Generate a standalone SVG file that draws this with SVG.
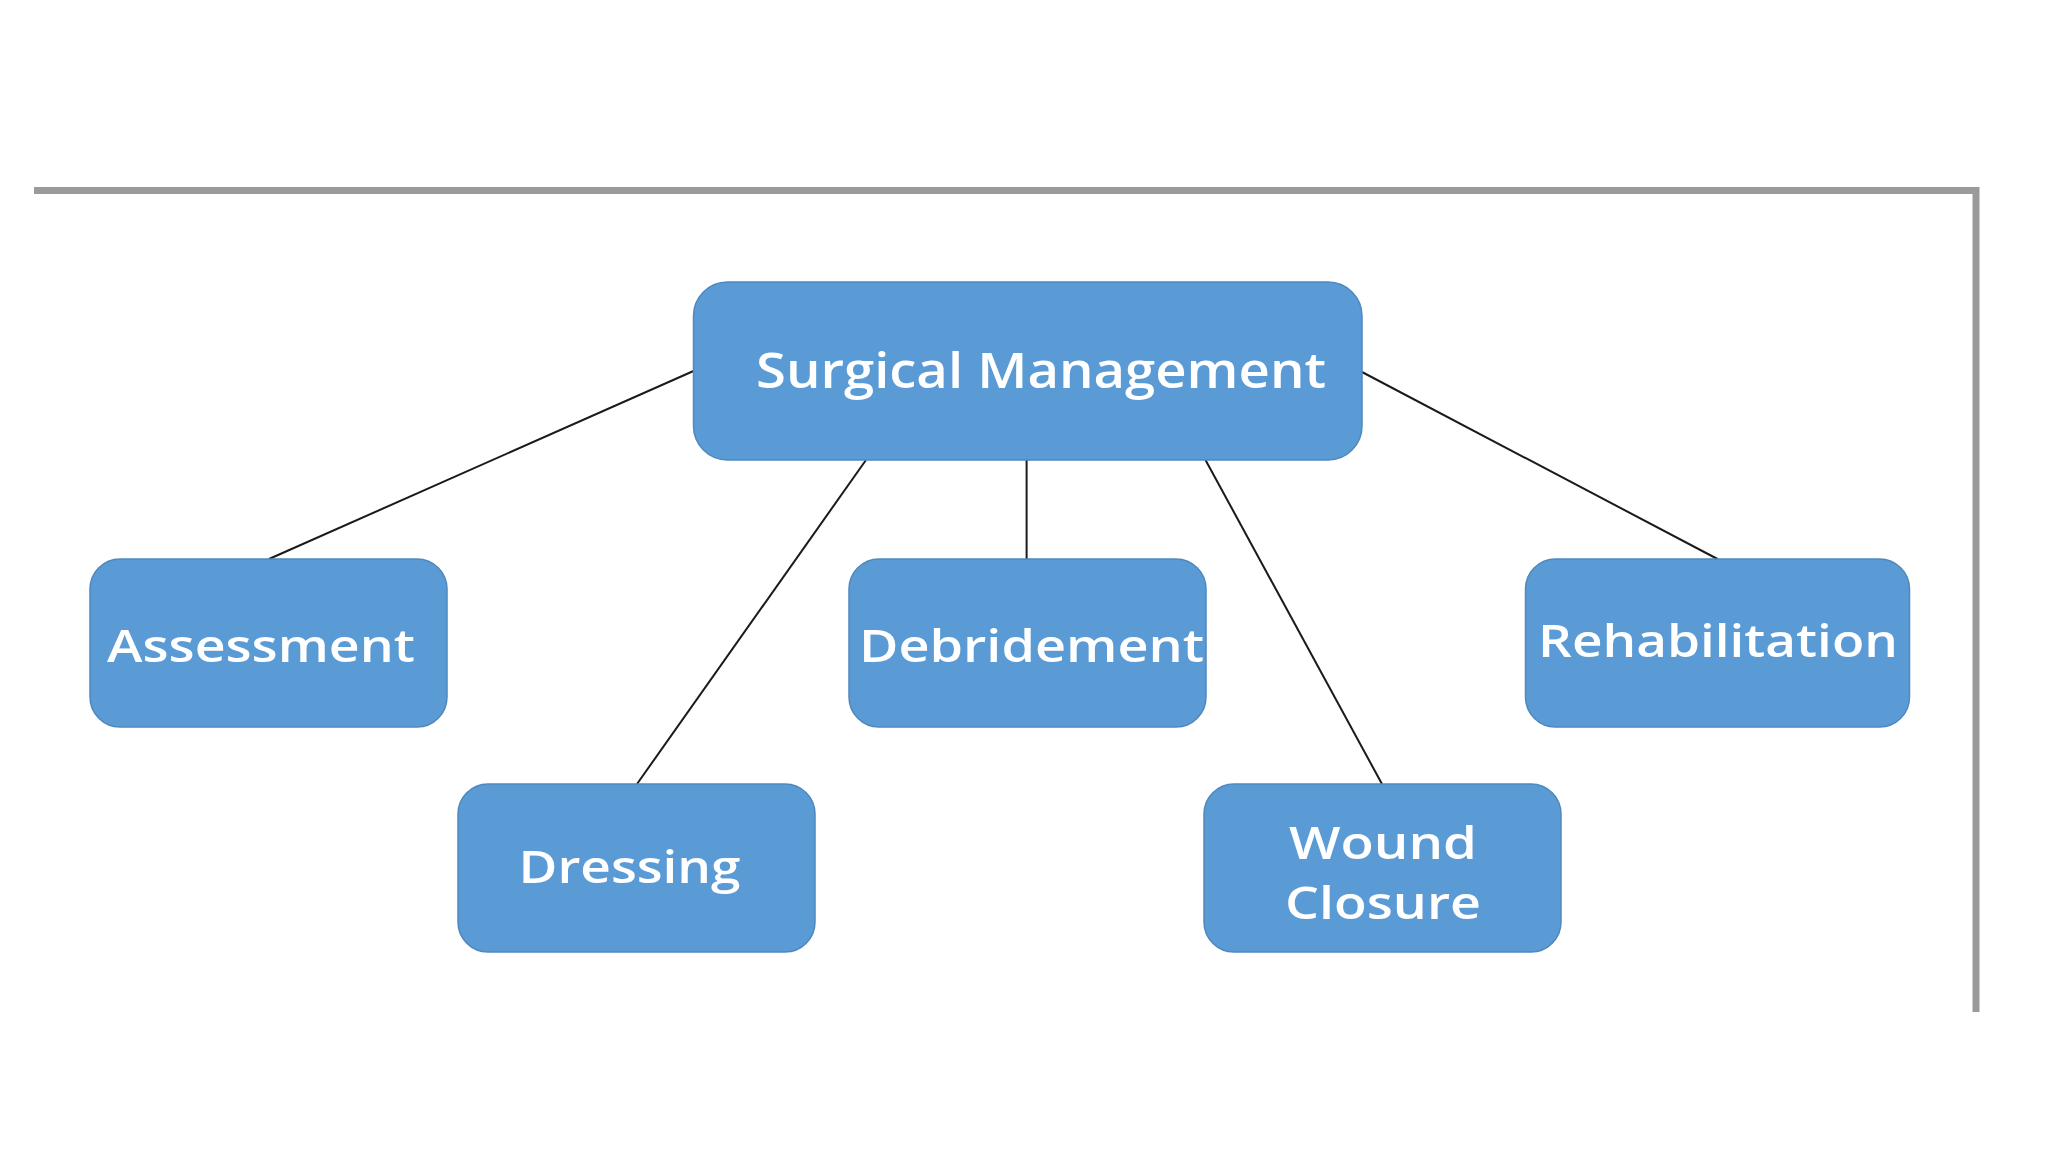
<svg xmlns="http://www.w3.org/2000/svg" width="2048" height="1154" viewBox="0 0 2048 1154">
  <style>
    .box { fill: #5B9BD5; stroke: #4F88BE; stroke-width: 1.5; }
    .lbl { fill: #FFFFFF; font-family: "Open Sans", "Liberation Sans", sans-serif; font-weight: 600; text-anchor: middle; }
    .conn line { stroke: #1a1a1a; stroke-width: 2; }
    .frame { stroke: #9A9A9A; stroke-width: 7; fill: none; }
  </style>
  <rect x="0" y="0" width="2048" height="1154" fill="#FFFFFF"/>
  <polyline class="frame" points="34,190.5 1976,190.5 1976,1012"/>

  <g id="connectors" class="conn">
    <line x1="693.5" y1="371" x2="269" y2="559"/>
    <line x1="866" y1="460" x2="637" y2="784"/>
    <line x1="1026.6" y1="460" x2="1026.6" y2="559"/>
    <line x1="1205.5" y1="460" x2="1382" y2="784"/>
    <line x1="1362" y1="372" x2="1717.5" y2="559"/>
  </g>

  <g id="surgical-management">
    <rect class="box" x="693.5" y="282" width="668.5" height="178" rx="34"/>
    <text class="lbl" x="1041" y="388" font-size="48" textLength="570" lengthAdjust="spacingAndGlyphs">Surgical Management</text>
  </g>
  <g id="assessment">
    <rect class="box" x="90" y="559" width="357" height="168" rx="30"/>
    <text class="lbl" x="261" y="662" font-size="46" textLength="308" lengthAdjust="spacingAndGlyphs">Assessment</text>
  </g>
  <g id="debridement">
    <rect class="box" x="849" y="559" width="357" height="168" rx="30"/>
    <text class="lbl" x="1031.5" y="662" font-size="46" textLength="345" lengthAdjust="spacingAndGlyphs">Debridement</text>
  </g>
  <g id="rehabilitation">
    <rect class="box" x="1525.5" y="559" width="384" height="168" rx="30"/>
    <text class="lbl" x="1718" y="657" font-size="46" textLength="360" lengthAdjust="spacingAndGlyphs">Rehabilitation</text>
  </g>
  <g id="dressing">
    <rect class="box" x="458" y="784" width="357" height="168" rx="30"/>
    <text class="lbl" x="629.5" y="883" font-size="46" textLength="222" lengthAdjust="spacingAndGlyphs">Dressing</text>
  </g>
  <g id="wound-closure">
    <rect class="box" x="1204" y="784" width="357" height="168" rx="30"/>
    <text class="lbl" x="1383" y="859" font-size="46" textLength="188" lengthAdjust="spacingAndGlyphs">Wound</text>
    <text class="lbl" x="1383" y="919" font-size="46" textLength="196" lengthAdjust="spacingAndGlyphs">Closure</text>
  </g>
</svg>
